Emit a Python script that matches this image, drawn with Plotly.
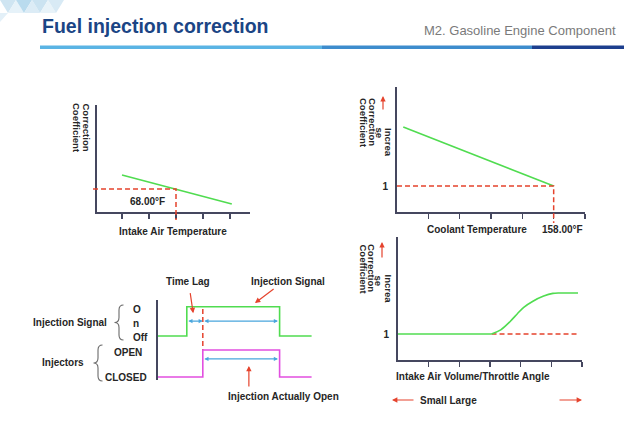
import plotly.graph_objects as go

W, H = 638, 442

# ---------------- data ----------------
# Chart 1: intake air temperature correction
IAT_TICKS = [8, 38, 68, 98, 128]            # deg F
IAT_REF = 68
IAT_LINE_X = [8, 130]
IAT_LINE_Y = [1.07, 0.925]
IAT_GUIDE_START = -24.2
IAT_GUIDE_BOTTOM = 0.845

# Chart 2: coolant temperature correction
ECT_TICKS = [38, 68, 98, 128, 158, 188]      # deg F
ECT_REF = 158
ECT_LINE_X = [14, 158]
ECT_LINE_Y = [1.30, 1.00]
ECT_GUIDE_BOTTOM = 0.812

# Chart 4: intake air volume / throttle angle correction
TPS_TICKS = [1, 2, 3, 4, 5, 6]
TPS_X = [0, 3.05, 3.35, 3.65, 3.9, 4.1, 4.4, 4.75, 5.05, 5.25, 5.87]
TPS_Y = [1.0, 1.0, 1.02, 1.06, 1.10, 1.13, 1.16, 1.185, 1.198, 1.2, 1.2]
TPS_REF_X = [3.05, 5.87]

# Chart 3: injection timing
SIG_T = [0, 0.9, 0.9, 3.8, 3.8, 4.8]
SIG_V = [1.52, 1.52, 2.6, 2.6, 1.52, 1.52]
INJ_T = [0, 1.4, 1.4, 3.8, 3.8, 4.8]
INJ_V = [0, 0, 1, 1, 0, 0]
LAG_START, LAG_END, PULSE_END = 0.9, 1.4, 3.75
SIG_ARROW_Y, INJ_ARROW_Y = 2.07, 0.67
LAG_GUIDE_TOP = 2.52

GREEN = '#50dc50'
MAGENTA = '#e24fe0'
BLUE = '#4aa6dd'
RED = '#e5432d'
AXIS = '#45475f'
TXT = '#262626'
FONT = 'Arial, Liberation Sans, sans-serif'

layout = dict(width=W, height=H, margin=dict(l=0, r=0, t=0, b=0),
              paper_bgcolor='white', plot_bgcolor='rgba(0,0,0,0)',
              showlegend=False, font=dict(family=FONT, color=TXT))
annotations = []
shapes = []


def pxx(px):
    return px / W


def pxy(py):
    return 1 - py / H


def axkey(c, n):
    return c + 'axis' + ('' if n == 1 else str(n))


def make_axes(n, box, xr, yr, xopt=None, yopt=None):
    x0, x1, yt, yb = box
    base = dict(showgrid=False, zeroline=False, showticklabels=False, ticks='',
                showline=False, fixedrange=True)
    xa = dict(base, domain=[x0 / W, x1 / W], range=xr, anchor='y' + ('' if n == 1 else str(n)))
    ya = dict(base, domain=[1 - yb / H, 1 - yt / H], range=yr, anchor='x' + ('' if n == 1 else str(n)))
    xa.update(xopt or {})
    ya.update(yopt or {})
    layout[axkey('x', n)] = xa
    layout[axkey('y', n)] = ya


def extend(box, xr, yr, ebox):
    x0, x1, yt, yb = box
    sx = (xr[1] - xr[0]) / (x1 - x0)
    sy = (yr[1] - yr[0]) / (yb - yt)
    ex0, ex1, eyt, eyb = ebox
    return ([xr[0] + (ex0 - x0) * sx, xr[0] + (ex1 - x0) * sx],
            [yr[0] + (yb - eyb) * sy, yr[0] + (yb - eyt) * sy])


def txt(x, y, text, size=10, xanchor='center', angle=0, color=TXT, bold=True):
    annotations.append(dict(x=pxx(x), y=pxy(y), xref='paper', yref='paper',
                            text=('<b>%s</b>' % text) if bold else text,
                            showarrow=False, xanchor=xanchor, yanchor='middle',
                            textangle=angle, font=dict(size=size, color=color, family=FONT)))


def paper_arrow(hx, hy, dx, dy, color=RED):
    annotations.append(dict(x=pxx(hx), y=pxy(hy), xref='paper', yref='paper', text='',
                            showarrow=True, ax=dx, ay=dy, axref='pixel', ayref='pixel',
                            arrowhead=2, arrowsize=0.9, arrowwidth=1.2, arrowcolor=color))


def data_arrow(n, x, y, ax, ay, color, both=False, size=0.9):
    r = '' if n == 1 else str(n)
    annotations.append(dict(x=x, y=y, ax=ax, ay=ay, xref='x' + r, yref='y' + r,
                            axref='x' + r, ayref='y' + r, text='', showarrow=True,
                            arrowside='end+start' if both else 'end',
                            arrowhead=2, arrowsize=size, arrowwidth=1.2, arrowcolor=color))


axis_style = dict(showline=True, linecolor=AXIS, linewidth=2)
tick_style = dict(ticks='outside', ticklen=5, tickwidth=1.5, tickcolor=AXIS)

traces = []


def line(n, x, y, color, width=1.6, dash=None, shape='linear'):
    r = '' if n == 1 else str(n)
    traces.append(go.Scatter(x=x, y=y, xaxis='x' + r, yaxis='y' + r, mode='lines',
                             line=dict(color=color, width=width, dash=dash, shape=shape,
                                       smoothing=0.8),
                             hoverinfo='skip', cliponaxis=False))


DASH = '5px,3px'

# ---------- Chart 1 ----------
box1 = (97, 250, 105, 212)
xr1 = [IAT_REF - 79 * 30 / 27, IAT_REF + 74 * 30 / 27]
yr1 = [0.885, 1.42]
make_axes(1, box1, xr1, yr1,
          dict(axis_style, tickvals=IAT_TICKS, **tick_style), dict(axis_style))
line(1, IAT_LINE_X, IAT_LINE_Y, GREEN)
exr1, eyr1 = extend(box1, xr1, yr1, (85, 250, 105, 232))
make_axes(5, (85, 250, 105, 232), exr1, eyr1)
line(5, [IAT_GUIDE_START, IAT_REF, IAT_REF], [1.0, 1.0, IAT_GUIDE_BOTTOM], RED, 1.5, DASH)
txt(147, 202, '%.2f°F' % IAT_REF)
txt(173, 231, 'Intake Air Temperature')
txt(85.5, 127, 'Correction', 9.5, angle=90)
txt(77, 128, 'Coefficient', 9.5, angle=90)

# ---------- Chart 2 ----------
box2 = (397, 585, 87, 212)
xr2 = [8, 188]
yr2 = [1 - 26 / 196.67, 1 + 99 / 196.67]
make_axes(2, box2, xr2, yr2,
          dict(axis_style, tickvals=ECT_TICKS, **tick_style),
          dict(axis_style, tickvals=[1], ticktext=['1'], showticklabels=True,
               ticklabelstandoff=5, tickfont=dict(size=10, weight='bold', color=TXT)))
line(2, ECT_LINE_X, ECT_LINE_Y, GREEN)
exr2, eyr2 = extend(box2, xr2, yr2, (397, 585, 87, 232))
make_axes(6, (397, 585, 87, 232), exr2, eyr2)
line(6, [xr2[0], ECT_REF, ECT_REF], [1.0, 1.0, ECT_GUIDE_BOTTOM], RED, 1.5, DASH)
txt(477, 229, 'Coolant Temperature')
txt(562, 229, '%.2f°F' % ECT_REF)
txt(373, 122, 'Correction', 9.5, angle=90)
txt(364, 123, 'Coefficient', 9.5, angle=90)
txt(389, 142, 'Increa', 9.5, angle=90)
txt(379.5, 133, 'se', 9.5, angle=90)
paper_arrow(383, 96, 0, 15)

# ---------- Chart 4 ----------
box4 = (398, 582, 237, 360)
xr4 = [0, 6]
yr4 = [1 - 26 / 205, 1 + 97 / 205]
make_axes(4, box4, xr4, yr4,
          dict(axis_style, tickvals=TPS_TICKS, **tick_style),
          dict(axis_style, tickvals=[1], ticktext=['1'], showticklabels=True,
               ticklabelstandoff=5, tickfont=dict(size=10, weight='bold', color=TXT)))
line(4, TPS_REF_X, [1.0, 1.0], RED, 1.5, DASH)
line(4, TPS_X[:2], TPS_Y[:2], GREEN)                       # flat part
line(4, TPS_X[1:], TPS_Y[1:], GREEN, shape='spline')       # rising S-curve
txt(473, 376, 'Intake Air Volume/Throttle Angle')
txt(449, 400, 'Small Large')
paper_arrow(392, 400, 23, 0)
paper_arrow(582, 400, -24, 0)
txt(372, 268, 'Correction', 9.5, angle=90)
txt(363.5, 269, 'Coefficient', 9.5, angle=90)
txt(388.5, 289, 'Increa', 9.5, angle=90)
txt(378.5, 281, 'se', 9.5, angle=90)
paper_arrow(382, 242, 0, 17)

# ---------- Chart 3 ----------
box3 = (158, 312, 300, 380)
xr3 = [0, 154 / 32]
yr3 = [-3 / 27, 77 / 27]
make_axes(3, box3, xr3, yr3, None, dict(axis_style))
line(3, [LAG_END, LAG_END], [LAG_GUIDE_TOP, 1.0], RED, 1.5, DASH)
line(3, SIG_T, SIG_V, GREEN)
line(3, INJ_T, INJ_V, MAGENTA)
data_arrow(3, LAG_END, SIG_ARROW_Y, LAG_START, SIG_ARROW_Y, BLUE, both=True, size=0.7)
data_arrow(3, PULSE_END, SIG_ARROW_Y, LAG_END, SIG_ARROW_Y, BLUE, both=True, size=0.7)
data_arrow(3, PULSE_END, INJ_ARROW_Y, LAG_END, INJ_ARROW_Y, BLUE, both=True, size=0.7)
data_arrow(3, 1.1, 2.36, 1.0, 3.16, RED)
data_arrow(3, 3.03, 2.74, 3.66, 3.3, RED)
data_arrow(3, 2.84, 0.41, 2.84, -0.41, RED)
txt(188, 281, 'Time Lag')
txt(288, 281, 'Injection Signal')
txt(283, 396, 'Injection Actually Open')
txt(70, 322, 'Injection Signal')
txt(63, 362, 'Injectors')
txt(131, 309, 'O', xanchor='left')
txt(131, 323, 'n', xanchor='left')
txt(131, 337, 'Off', xanchor='left')
txt(128, 352, 'OPEN')
txt(126, 377, 'CLOSED')


def brace(xm, yt, yb, w=4.5):
    ym = (yt + yb) / 2
    r = 5
    pts = [
        ('M', xm + w, yt), ('Q', xm, yt, xm, yt + r), ('L', xm, ym - r),
        ('Q', xm, ym, xm - w, ym), ('Q', xm, ym, xm, ym + r), ('L', xm, yb - r),
        ('Q', xm, yb, xm + w, yb)]
    s = ''
    for p in pts:
        cmd, vals = p[0], p[1:]
        coords = []
        for i in range(0, len(vals), 2):
            coords.append('%.5f,%.5f' % (pxx(vals[i]), pxy(vals[i + 1])))
        s += cmd + ' '.join(coords) + ' '
    shapes.append(dict(type='path', path=s, xref='paper', yref='paper',
                       line=dict(color='#6a6a6a', width=1.1)))


brace(119, 305, 340)
brace(98, 345, 381)

# ---------- header ----------
txt(40, 26, 'Fuel injection correction', 19.5, xanchor='left', color='#1b4585')
txt(618, 31, 'M2. Gasoline Engine Component', 13, xanchor='right', color='#7a7a7a', bold=False)
for x0, x1, c in [(40, 322, '#5ab4e4'), (322, 532, '#3d8ccd'), (532, 624, '#1d3f8e')]:
    shapes.append(dict(type='rect', xref='paper', yref='paper', x0=pxx(x0), x1=pxx(x1),
                       y0=pxy(49), y1=pxy(45.5), line=dict(width=0), fillcolor=c))
tri = [((0, 0), (16, 0), (8, 13), '#cfe5f2'), ((8, 13), (16, 0), (24, 13), '#e6f2f9'),
       ((16, 0), (32, 0), (24, 13), '#b9dbee'), ((24, 13), (32, 0), (40, 13), '#dcecf6'),
       ((32, 0), (48, 0), (40, 13), '#cbe3f1'), ((40, 13), (48, 0), (56, 13), '#e8f3f9'),
       ((48, 0), (64, 0), (56, 13), '#d8eaf5'), ((0, 13), (8, 13), (0, 22), '#e3f0f8')]
for a, b, c, col in tri:
    p = 'M%.5f,%.5f L%.5f,%.5f L%.5f,%.5f Z' % (pxx(a[0]), pxy(a[1]), pxx(b[0]), pxy(b[1]),
                                                pxx(c[0]), pxy(c[1]))
    shapes.append(dict(type='path', path=p, xref='paper', yref='paper',
                       line=dict(width=0), fillcolor=col, layer='below'))

layout['annotations'] = annotations
layout['shapes'] = shapes
fig = go.Figure(data=traces, layout=layout)
fig.write_html('out.html', config=dict(displayModeBar=False, staticPlot=True),
               post_script="document.body.style.margin='0';document.body.style.overflow='hidden';")
